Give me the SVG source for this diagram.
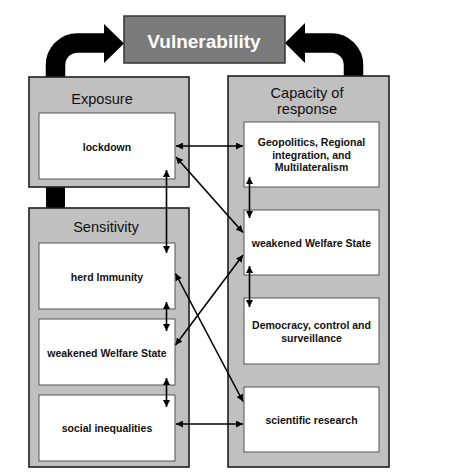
<svg xmlns="http://www.w3.org/2000/svg" width="474" height="474" viewBox="0 0 474 474">
<style>
.outer{fill:#c0c0c0;stroke:#1e1e1e;stroke-width:1.6}
.inner{fill:#ffffff;stroke:#555555;stroke-width:1}
.title{font-family:"Liberation Sans",Arial,sans-serif;font-size:14.6px;fill:#111;text-anchor:middle}
.lbl{font-family:"Liberation Sans",Arial,sans-serif;font-size:10.5px;font-weight:bold;fill:#111;text-anchor:middle}
.conn{stroke:#000;stroke-width:1.6;fill:none;marker-start:url(#ah);marker-end:url(#ah)}
.thick{stroke:#000;stroke-width:19.5;fill:none}
</style>
<defs>
<marker id="ah" viewBox="0 0 10 10" refX="10" refY="5" markerUnits="userSpaceOnUse" markerWidth="7" markerHeight="7" orient="auto-start-reverse">
<path d="M0,0 L10,5 L0,10 z" fill="#000"/>
</marker>
</defs>
<rect width="474" height="474" fill="#ffffff"/>

<g id="big-arrows">
<path class="thick" d="M55.5,78 V65 A22,22 0 0 1 77.5,43 H106"/>
<polygon points="104,24 124,43.5 104,63" fill="#000"/>
<path class="thick" d="M353.5,78 V65 A22,22 0 0 0 331.5,43 H303"/>
<polygon points="305,23 285,43 305,63" fill="#000"/>
<rect x="46" y="185" width="19" height="25" fill="#000"/>
</g>

<g id="vulnerability">
<rect x="124" y="16" width="161" height="47" fill="#7b7b7b" stroke="#333" stroke-width="1.5"/>
<text x="204" y="48" font-family="'Liberation Sans',Arial,sans-serif" font-size="19px" font-weight="bold" fill="#ffffff" text-anchor="middle">Vulnerability</text>
</g>

<g id="exposure">
<rect class="outer" x="29" y="77" width="160" height="110"/>
<text class="title" x="102" y="104">Exposure</text>
</g>
<g id="lockdown">
<rect class="inner" x="39" y="113" width="136" height="66"/>
<text class="lbl" x="107" y="151">lockdown</text>
</g>

<g id="sensitivity">
<rect class="outer" x="29" y="208" width="160" height="259"/>
<text class="title" x="106" y="232">Sensitivity</text>
</g>
<g id="herd-immunity">
<rect class="inner" x="39" y="243" width="136" height="66"/>
<text class="lbl" x="107" y="281">herd Immunity</text>
</g>
<g id="welfare-left">
<rect class="inner" x="39" y="319" width="136" height="66"/>
<text class="lbl" x="107" y="357">weakened Welfare State</text>
</g>
<g id="social-inequalities">
<rect class="inner" x="39" y="395" width="136" height="66"/>
<text class="lbl" x="107" y="432">social inequalities</text>
</g>

<g id="capacity">
<rect class="outer" x="228" y="76" width="161" height="391"/>
<text class="title" x="307" y="98">Capacity of</text>
<text class="title" x="307" y="114">response</text>
</g>
<g id="geopolitics">
<rect class="inner" x="244" y="122" width="135" height="65"/>
<text class="lbl" x="311.5" y="146">Geopolitics, Regional</text>
<text class="lbl" x="311.5" y="159">integration, and</text>
<text class="lbl" x="311.5" y="171">Multilateralism</text>
</g>
<g id="welfare-right">
<rect class="inner" x="244" y="210" width="135" height="65"/>
<text class="lbl" x="311.5" y="247">weakened Welfare State</text>
</g>
<g id="democracy">
<rect class="inner" x="244" y="298" width="135" height="66"/>
<text class="lbl" x="311.5" y="329">Democracy, control and</text>
<text class="lbl" x="311.5" y="342">surveillance</text>
</g>
<g id="scientific-research">
<rect class="inner" x="244" y="387" width="135" height="65"/>
<text class="lbl" x="311.5" y="424">scientific research</text>
</g>

<g id="connectors">
<line class="conn" x1="176" y1="146" x2="243" y2="146"/>
<line class="conn" x1="176" y1="157" x2="243" y2="232.5"/>
<line class="conn" x1="249.5" y1="177" x2="249.5" y2="218"/>
<line class="conn" x1="166.5" y1="170" x2="166.5" y2="253"/>
<line class="conn" x1="175.5" y1="273.5" x2="243" y2="401.5"/>
<line class="conn" x1="175.5" y1="345" x2="243" y2="255"/>
<line class="conn" x1="166.5" y1="302" x2="166.5" y2="331"/>
<line class="conn" x1="166.5" y1="378" x2="166.5" y2="407"/>
<line class="conn" x1="249.5" y1="266" x2="249.5" y2="307"/>
<line class="conn" x1="176" y1="424" x2="243" y2="424"/>
</g>
</svg>
